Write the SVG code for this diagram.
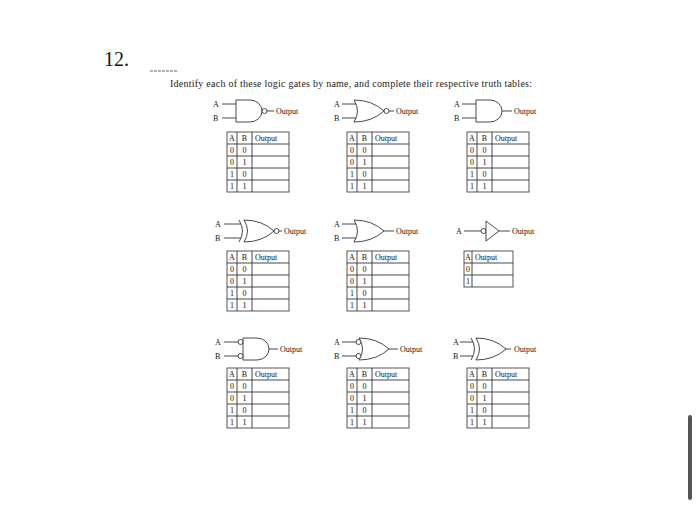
<svg xmlns="http://www.w3.org/2000/svg" xmlns:xlink="http://www.w3.org/1999/xlink" width="700" height="506" viewBox="0 0 700 506">
<style>
.s{fill:none;stroke:#333;stroke-width:0.9}
.f{fill:#fff;stroke:#333;stroke-width:0.9}
.t{font-family:"Liberation Serif",serif;font-size:8px;fill:#111}
.c{text-anchor:middle}
.tb{fill:#fff;stroke:#444;stroke-width:0.9}
</style>
<defs>
<path id="andb" d="M0,0 H14 A12,11 0 0 1 14,22 H0 Z"/>
<path id="orb" d="M-2,0 Q16,0 28,11 Q16,22 -2,22 Q5,11 -2,0 Z"/>
<g id="tt">
<rect class="tb" x="0" y="0" width="62" height="60"/>
<path class="s" d="M10,0V60 M25,0V60 M0,12H62 M0,24H62 M0,36H62 M0,48H62"/>
<text class="t c" x="5" y="9">A</text><text class="t c" x="17.5" y="9">B</text><text class="t" x="28" y="9">Output</text>
<text class="t c" x="5" y="21">0</text><text class="t c" x="17.5" y="21">0</text>
<text class="t c" x="5" y="33">0</text><text class="t c" x="17.5" y="33">1</text>
<text class="t c" x="5" y="45">1</text><text class="t c" x="17.5" y="45">0</text>
<text class="t c" x="5" y="57">1</text><text class="t c" x="17.5" y="57">1</text>
</g>
</defs>
<rect width="700" height="506" fill="#fff"/>
<text x="104" y="66" style="font-family:'Liberation Serif',serif;font-size:20px" fill="#111">12.</text>
<line x1="150" y1="71" x2="178" y2="71" stroke="#666" stroke-width="1" stroke-dasharray="3,1"/>
<text x="170" y="87" style="font-family:'Liberation Serif',serif;font-size:10px" fill="#222" textLength="362">Identify each of these logic gates by name, and complete their respective truth tables:</text>

<g id="connectors">
<path class="s" d="M222,104H236 M222,118H236 M267,111H274"/>
<path class="s" d="M342,104H357 M342,118H357 M389,111H394"/>
<path class="s" d="M462,104H476 M462,118H476 M502,111H512"/>
<path class="s" d="M224,224H241 M224,238H241 M279,231H282"/>
<path class="s" d="M342,224H357 M342,238H357 M384,231H394"/>
<path class="s" d="M464,231H481 M499,231H510"/>
<path class="s" d="M224,342H238 M224,356H238 M269,349H278"/>
<path class="s" d="M342,342H356 M342,356H356 M389,349H398"/>
<path class="s" d="M460,342H473 M460,356H473 M506,349H511"/>
</g>

<g id="g1"><text class="t" x="213" y="107">A</text><text class="t" x="213" y="121">B</text>
<use href="#andb" class="f" transform="translate(236,100)"/><circle class="f" cx="264.5" cy="111" r="2.5"/>
<text class="t" x="276" y="114">Output</text></g>
<g id="g2"><text class="t" x="334" y="107">A</text><text class="t" x="334" y="121">B</text>
<use href="#orb" class="f" transform="translate(356,100)"/><circle class="f" cx="386.5" cy="111" r="2.5"/>
<text class="t" x="396" y="114">Output</text></g>
<g id="g3"><text class="t" x="454" y="107">A</text><text class="t" x="454" y="121">B</text>
<use href="#andb" class="f" transform="translate(476,100)"/>
<text class="t" x="514" y="114">Output</text></g>

<g id="g4"><text class="t" x="215" y="227">A</text><text class="t" x="215" y="241">B</text>
<use href="#orb" class="f" transform="translate(246,220)"/><path class="s" d="M239,220 Q246,231 239,242"/><circle class="f" cx="276.5" cy="231" r="2.5"/>
<text class="t" x="284" y="234">Output</text></g>
<g id="g5"><text class="t" x="334" y="227">A</text><text class="t" x="334" y="241">B</text>
<use href="#orb" class="f" transform="translate(356,220)"/>
<text class="t" x="396" y="234">Output</text></g>
<g id="g6"><text class="t" x="456" y="234">A</text>
<circle class="f" cx="483.5" cy="231" r="2.5"/><path class="f" d="M486,221 L499,231 L486,241 Z"/>
<text class="t" x="512" y="234">Output</text></g>

<g id="g7"><text class="t" x="215" y="345">A</text><text class="t" x="215" y="359">B</text>
<use href="#andb" class="f" transform="translate(243,338)"/><circle class="f" cx="240.5" cy="342" r="2.5"/><circle class="f" cx="240.5" cy="356" r="2.5"/>
<text class="t" x="280" y="352">Output</text></g>
<g id="g8"><text class="t" x="334" y="345">A</text><text class="t" x="334" y="359">B</text>
<use href="#orb" class="f" transform="translate(361,338)"/><circle class="f" cx="358.5" cy="342" r="2.5"/><circle class="f" cx="358.5" cy="356" r="2.5"/>
<text class="t" x="400" y="352">Output</text></g>
<g id="g9"><text class="t" x="453" y="345">A</text><text class="t" x="453" y="359">B</text>
<use href="#orb" class="f" transform="translate(478,338)"/><path class="s" d="M471,338 Q478,349 471,360"/>
<text class="t" x="514" y="352">Output</text></g>

<g id="tables">
<use href="#tt" x="227" y="132"/><use href="#tt" x="347" y="132"/><use href="#tt" x="467" y="132"/>
<use href="#tt" x="227" y="251"/><use href="#tt" x="347" y="251"/>
<g id="nott"><rect class="tb" x="464" y="251" width="49" height="36"/>
<path class="s" d="M472,251V287 M464,263H513 M464,275H513"/>
<text class="t c" x="468" y="260">A</text><text class="t" x="475" y="260">Output</text>
<text class="t c" x="468" y="272">0</text><text class="t c" x="468" y="284">1</text></g>
<use href="#tt" x="227" y="368"/><use href="#tt" x="347" y="368"/><use href="#tt" x="467" y="368"/>
</g>
<rect x="688" y="415" width="4" height="85" rx="2" fill="#555"/>
</svg>
